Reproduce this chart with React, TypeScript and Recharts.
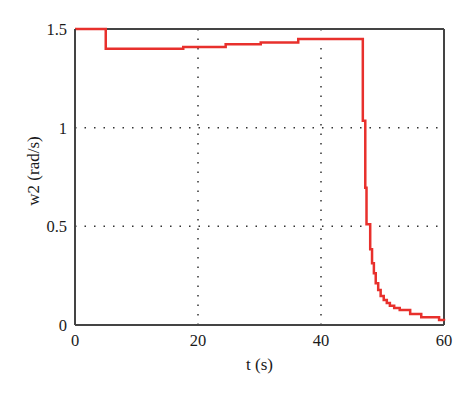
import * as React from "react";
import {
  LineChart,
  Line,
  XAxis,
  YAxis,
  ReferenceLine,
  Label,
} from "recharts";

// step response
const TIME = [
  0, 5.0, 17.6, 24.5, 30.2, 36.3, 46.8, 47.2, 47.4, 48.0, 48.3, 48.6, 48.9,
  49.3, 49.7, 50.2, 50.7, 51.2, 51.9, 52.8, 54.5, 56.3, 59.2, 60,
];
const W2 = [
  1.5, 1.4, 1.409, 1.423, 1.431, 1.449, 1.035, 0.696, 0.51, 0.384, 0.313,
  0.262, 0.211, 0.177, 0.147, 0.127, 0.111, 0.098, 0.086, 0.076, 0.056, 0.039,
  0.025, 0.022,
];
const X_TICKS = [0, 20, 40, 60];
const Y_TICKS = [0, 0.5, 1, 1.5];
const X_GRID = [20, 40];
const Y_GRID = [0.5, 1];

const data = TIME.map((t, i) => ({ t, w2: W2[i] }));

const FONT = "Liberation Serif";
const AXIS = "#444";
const RED = "#e8302c";
const TICK_STYLE = { fill: "#1a1a1a", fontSize: 16.5, fontFamily: FONT };

export default function App() {
  return (
    <div
      style={{
        position: "absolute",
        left: 0,
        top: 0,
        background: "#fff",
        fontFamily: FONT,
      }}
    >
      <LineChart
        width={474}
        height={395}
        data={data}
        margin={{ top: 29, right: 30, left: 30, bottom: 40 }}
        style={{ fontFamily: FONT }}
      >
        <XAxis
          dataKey="t"
          type="number"
          domain={[0, 60]}
          ticks={X_TICKS}
          tickSize={0}
          tickMargin={9}
          height={30}
          stroke={AXIS}
          strokeWidth={2}
          tick={TICK_STYLE}
        >
          <Label
            value="t (s)"
            position="bottom"
            offset={3}
            fontFamily={FONT}
            fontSize={17}
            fill="#1a1a1a"
          />
        </XAxis>
        <YAxis
          type="number"
          domain={[0, 1.5]}
          ticks={Y_TICKS}
          tickSize={0}
          tickMargin={8}
          width={45}
          stroke={AXIS}
          strokeWidth={2}
          tick={TICK_STYLE}
          tickFormatter={(v: number) => String(v)}
        >
          <Label
            value="w2 (rad/s)"
            angle={-90}
            position="center"
            dx={-20}
            dy={-6}
            fontFamily={FONT}
            fontSize={17}
            fill="#1a1a1a"
          />
        </YAxis>
        {X_GRID.map((x) => (
          <ReferenceLine
            key={`gx-${x}`}
            x={x}
            stroke="#333"
            strokeWidth={1.5}
            strokeDasharray="1.5 8"
          />
        ))}
        {Y_GRID.map((y) => (
          <ReferenceLine
            key={`gy-${y}`}
            y={y}
            stroke="#333"
            strokeWidth={1.5}
            strokeDasharray="1.5 8"
          />
        ))}
        <ReferenceLine y={1.5} stroke={AXIS} strokeWidth={2} />
        <ReferenceLine x={60} stroke={AXIS} strokeWidth={2} />
        <Line
          dataKey="w2"
          type="stepAfter"
          stroke={RED}
          strokeWidth={2.5}
          dot={false}
          isAnimationActive={false}
        />
      </LineChart>
    </div>
  );
}
